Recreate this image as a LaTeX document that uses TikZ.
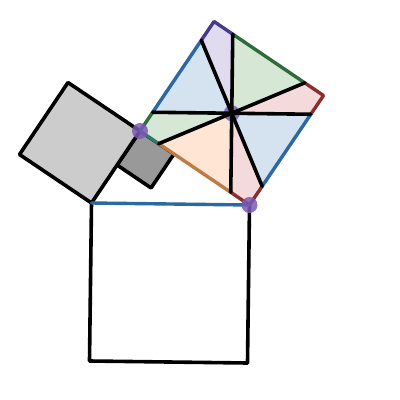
\documentclass[tikz,border=0pt]{standalone}
\usetikzlibrary{calc}
\definecolor{fblue}{HTML}{D5E3F0}
\definecolor{fpink}{HTML}{F4DADB}
\definecolor{fpeach}{HTML}{FFE5D3}
\definecolor{fgreen}{HTML}{D6E8D5}
\definecolor{flav}{HTML}{E1DBEF}
\definecolor{eblue}{HTML}{2B68A4}
\definecolor{ered}{HTML}{8A2F30}
\definecolor{eorange}{HTML}{BD7C45}
\definecolor{egreen}{HTML}{2F6B3B}
\definecolor{eteal}{HTML}{2E7A6C}
\definecolor{epurple}{HTML}{473A8C}
\definecolor{dotc}{HTML}{7A5AB6}
\definecolor{lgray}{HTML}{CCCCCC}
\definecolor{dgray}{HTML}{999999}
\begin{document}
\begin{tikzpicture}[x=1pt,y=-1pt,line join=round,line cap=round,
  blk/.style={draw=black,line width=3.6pt},
  edge/.style={line width=3.4pt},
  dotstyle/.style={fill=dotc,fill opacity=0.85}]
\useasboundingbox (0,0) rectangle (400,400);
\coordinate (A) at (91.5,203);
\coordinate (B) at (249.5,205);
\coordinate (C) at (140,131);
\coordinate (E) at ($(C)!1!90:(B)$);
\coordinate (D) at ($(B)!1!-90:(C)$);
\coordinate (F) at ($(C)!1!-90:(A)$);
\coordinate (G) at ($(A)!1!90:(C)$);
\coordinate (H) at ($(A)!1!-90:(B)$);
\coordinate (I) at ($(B)!1!90:(A)$);
\coordinate (K1) at ($(C)!41pt!(A)$);
\coordinate (K2) at ($(C)!41pt!(B)$);
\coordinate (K3) at ($(K1)+(K2)-(C)$);
\coordinate (O) at ($(C)!0.5!(D)$);
\coordinate (O2) at ($(O)+(B)-(A)$);
\coordinate (P1) at (intersection of O--O2 and C--E);
\coordinate (Q2) at ($(O)!1!90:(P1)$);
\coordinate (P2) at ($(P1)!2!(O)$);
\coordinate (Q1) at ($(Q2)!2!(O)$);
\coordinate (M1) at ($(C)!(P1)!(D)$);
\coordinate (S1) at ($(P1)!2!(M1)$);
\coordinate (M2) at ($(C)!(Q2)!(D)$);
\coordinate (R1) at ($(Q2)!2!(M2)$);
\coordinate (S2) at ($(S1)!2!(O)$);
\coordinate (R2) at ($(R1)!2!(O)$);
% gray squares
\filldraw[blk,fill=dgray] (C)--(K1)--(K3)--(K2)--cycle;
\filldraw[blk,fill=lgray] (C)--(F)--(G)--(A)--cycle;
% hypotenuse square
\draw[blk] (A)--(H)--(I)--(B);
\draw[edge,draw=eblue] (A)--(B);
% pieces
\fill[fblue] (O)--(P2)--(R2)--cycle;
\fill[fpink] (O)--(R2)--(B)--(Q2)--cycle;
\fill[fpeach] (O)--(Q2)--(S1)--cycle;
\fill[fgreen] (O)--(S1)--(C)--(P1)--cycle;
\fill[fblue] (O)--(P1)--(R1)--cycle;
\fill[flav] (O)--(R1)--(E)--(Q1)--cycle;
\fill[fgreen] (O)--(Q1)--(S2)--cycle;
\fill[fpink] (O)--(S2)--(D)--(P2)--cycle;
% outer edges
\draw[edge,draw=eblue] (P2)--(R2);
\draw[edge,draw=ered] (R2)--(B)--(Q2);
\draw[edge,draw=eorange] (Q2)--(S1);
\draw[edge,draw=eteal] (S1)--(C);
\draw[edge,draw=egreen] (C)--(P1);
\draw[edge,draw=eblue] (P1)--(R1);
\draw[edge,draw=epurple] (R1)--(E)--(Q1);
\draw[edge,draw=egreen] (Q1)--(S2);
\draw[edge,draw=ered] (S2)--(D)--(P2);
% dots
\fill[dotstyle] (C) circle (8);
\fill[dotstyle] (O) circle (8);
\fill[dotstyle] (B) circle (8);
% inner lines
\draw[blk] (P1)--(P2);
\draw[blk] (Q1)--(Q2);
\draw[blk] (R1)--(R2);
\draw[blk] (S1)--(S2);
\end{tikzpicture}
\end{document}
